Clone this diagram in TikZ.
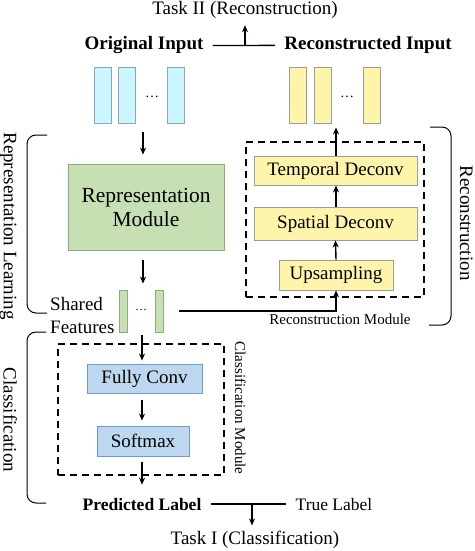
\documentclass[tikz,border=0pt]{standalone}
\usepackage{fontspec}
\setmainfont{Liberation Serif}
\usetikzlibrary{arrows.meta}
\definecolor{cyanfill}{HTML}{CCF6FF}
\definecolor{cyanline}{HTML}{8AA6BE}
\definecolor{yelfill}{HTML}{FFF5AA}
\definecolor{yelline}{HTML}{9C9C9C}
\definecolor{grnfill}{HTML}{C6E0B4}
\definecolor{grnline}{HTML}{8EAA7E}
\definecolor{bluefill}{HTML}{BDD7EE}
\definecolor{blueline}{HTML}{6C9BCF}
\tikzset{
  bar/.style={draw, line width=0.9pt, minimum width=17pt, minimum height=56pt, inner sep=0pt},
  cyanbar/.style={bar, draw=cyanline, fill=cyanfill},
  yelbar/.style={bar, draw=yelline, fill=yelfill},
  grnbar/.style={draw=grnline, fill=grnfill, line width=0.9pt, minimum width=8pt, minimum height=42pt, inner sep=0pt},
  yelbox/.style={draw=yelline, fill=yelfill, line width=0.9pt, inner sep=0pt, font=\fontsize{19}{22}\selectfont},
  bluebox/.style={draw=blueline, fill=bluefill, line width=0.9pt, inner sep=0pt, font=\fontsize{19}{22}\selectfont},
  dashbox/.style={draw, line width=1.8pt, dash pattern=on 7pt off 5pt, inner sep=0pt},
  arr/.style={line width=1.4pt, -{Stealth[length=7pt,width=6pt]}},
  plain/.style={line width=1.4pt},
  brk/.style={line width=1pt, rounded corners=9pt},
  big/.style={font=\fontsize{19}{22}\selectfont},
  bigb/.style={font=\fontsize{19}{22}\selectfont\bfseries},
  small/.style={font=\fontsize{15}{17}\selectfont},
  sidetxt/.style={big, rotate=-90, anchor=base, inner sep=0pt},
  dotsn/.style={inner sep=0pt, font=\fontsize{14}{16}\selectfont}
}
\begin{document}
\begin{tikzpicture}[x=1pt,y=-1pt]
\useasboundingbox (0,0) rectangle (474,551);
% top labels
\node[big, anchor=base, inner sep=6pt] (task2) at (245,15) {Task II (Reconstruction)};
\node[bigb, anchor=base, inner sep=9pt] (origtxt) at (144,50) {Original Input};
\node[bigb, anchor=base, inner sep=9pt] (recontxt) at (368,50) {Reconstructed Input};
\draw[plain] (origtxt.east) -- (recontxt.west);
\draw[arr] (task2.south |- origtxt.east) -- (task2.south);
% input bars
\node[cyanbar] (b1) at (102.5,95) {};
\node[cyanbar] (b2) at (127,95) {};
\node[cyanbar] (b3) at (176,95) {};
\node[dotsn] (bd) at (152,97) {\dots};
\node[yelbar] (y1) at (298,95) {};
\node[yelbar] (y2) at (323,95) {};
\node[yelbar] (y3) at (372,95) {};
\node[dotsn] (yd) at (347,97) {\dots};
% representation
\coordinate (colx) at (143,0);
\node[draw=grnline, fill=grnfill, line width=0.9pt, minimum width=156pt, minimum height=86pt, inner sep=0pt, align=center, font=\fontsize{21.5}{24}\selectfont] (rep) at (146,207) {Representation\\Module};
\draw[arr, shorten <=9pt, shorten >=9pt] (colx |- b1.south) -- (colx |- rep.north);
% shared features
\node[grnbar] (s1) at (123,311) {};
\node[grnbar] (s2) at (159,311) {};
\node[dotsn, font=\fontsize{12}{14}\selectfont] (sd) at (141,310) {\dots};
\node[big, anchor=base west, inner sep=0pt] (shtxt) at (50,310) {Shared};
\node[big, anchor=base west, inner sep=0pt] (fttxt) at (50,333) {Features};
\draw[arr, shorten <=10pt, shorten >=6pt] (colx |- rep.south) -- (colx |- s1.north);
% reconstruction module
\node[dashbox, minimum width=178pt, minimum height=155pt] (rbox) at (335,219.5) {};
\node[yelbox, minimum width=163pt, minimum height=29pt] (tp) at (335.5,170.5) {Temporal Deconv};
\node[yelbox, minimum width=163pt, minimum height=33pt] (sp) at (335.5,223.5) {Spatial Deconv};
\node[yelbox, minimum width=114pt, minimum height=30pt] (ups) at (336,275) {Upsampling};
\node[small, anchor=base] (rmtxt) at (340,324) {Reconstruction Module};
\draw[arr, shorten <=16pt] (s2.east) -| (ups.south);
\draw[arr] (ups.north) -- (sp.south);
\draw[arr] (sp.north -| ups.north) -- (tp.south -| ups.north);
\draw[arr, shorten >=4pt] (tp.north -| ups.north) -- (ups.north |- y1.south);
% classification module
\node[dashbox, minimum width=166pt, minimum height=131pt] (cbox) at (141,409.5) {};
\node[bluebox, minimum width=115pt, minimum height=29pt] (fc) at (144.5,378.5) {Fully Conv};
\node[bluebox, minimum width=92pt, minimum height=30pt] (sm) at (143,441) {Softmax};
\node[small, rotate=-90, anchor=base, inner sep=0pt] (cmtxt) at (235,408) {Classification Module};
\coordinate (colc) at (142,0);
\draw[arr, shorten <=3pt, shorten >=3pt] (colc |- s1.south) -- (colc |- fc.north);
\draw[arr, shorten <=7pt, shorten >=5pt] (colc |- fc.south) -- (colc |- sm.north);
% bottom labels
\node[font=\fontsize{17.5}{20}\selectfont\bfseries, anchor=base, inner sep=9pt] (predtxt) at (142,510) {Predicted Label};
\node[font=\fontsize{17.5}{20}\selectfont, anchor=base, inner sep=9pt] (truetxt) at (334,510) {True Label};
\node[big, anchor=base, inner sep=5pt] (task1) at (255,544) {Task I (Classification)};
\draw[arr, shorten <=6pt, shorten >=4pt] (colc |- sm.south) -- (colc |- predtxt.north);
\draw[plain] (predtxt.east) -- (truetxt.west);
\draw[arr] (252,0 |- predtxt.east) -- (252,0 |- task1.north);
% brackets
\draw[brk] (47,135) -- (27,135) -- (27,313) -- (47,313);
\node[sidetxt] (rltxt) at (4,226) {Representation Learning};
\draw[brk] (46,332) -- (27,332) -- (27,503) -- (46,503);
\node[sidetxt] (cltxt) at (3.5,420) {Classification};
\draw[brk] (430,127) -- (451,127) -- (451,325) -- (429,325);
\node[sidetxt] (rctxt) at (460,223) {Reconstruction};
\end{tikzpicture}
\end{document}
